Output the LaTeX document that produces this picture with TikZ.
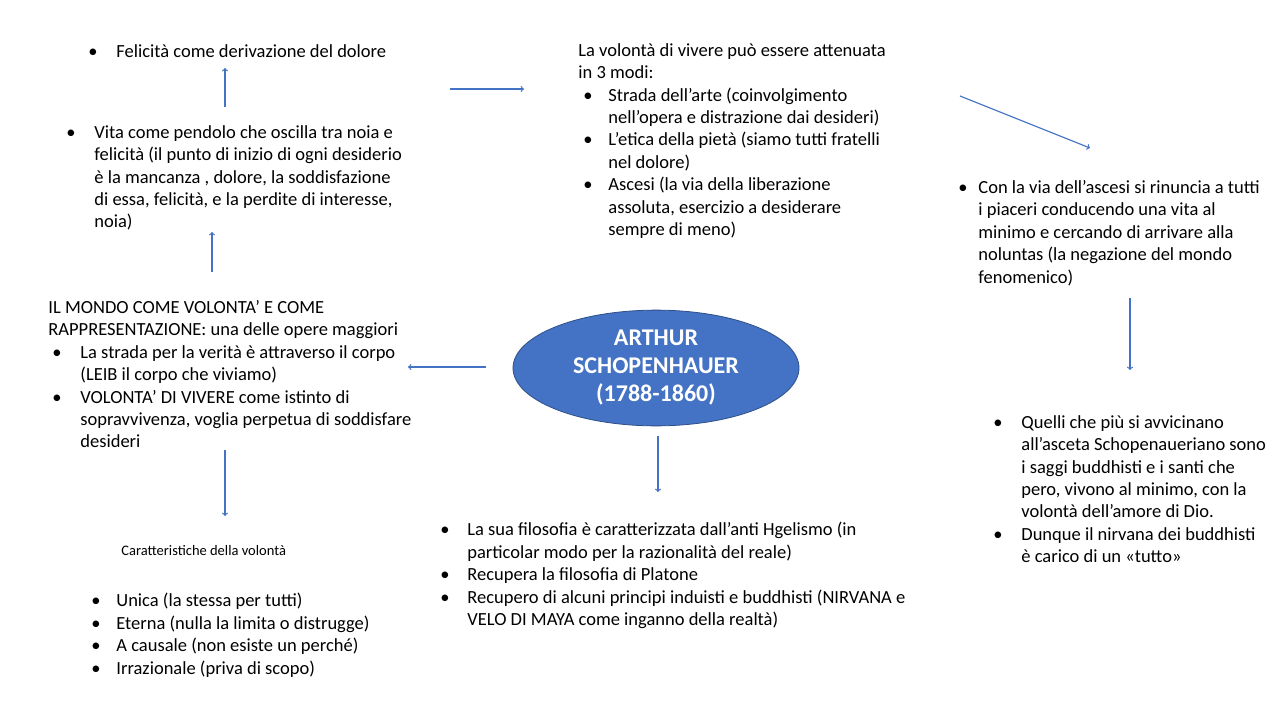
\documentclass[tikz,border=0pt]{standalone}
\usepackage{fontspec}
\setmainfont{Carlito}
\usetikzlibrary{arrows}
\usetikzlibrary{positioning,shapes.geometric}
\newcommand{\bu}[1]{\makebox[#1][l]{\textbullet}}
\newcommand{\ct}[1]{\hspace*{#1}}
\definecolor{slideblue}{HTML}{4472C4}
\begin{document}
\begin{tikzpicture}[x=1pt,y=-1pt,->,>=to,
	thick,txt/.style={anchor=north west,inner sep=0pt,align=left,font=\fontsize{18.5}{22.4}\selectfont},
	link/.style={draw=slideblue,line width=1.2pt}]
	\useasboundingbox (0,0) rectangle (1280,720);

	\node[txt] (fel) at (88,44) {\bu{28pt}Felicità come derivazione del dolore};
	\node[txt] (vita) at (66,125) {\bu{28pt}Vita come pendolo che oscilla tra noia e\\
		\ct{28pt}felicità (il punto di inizio di ogni desiderio\\
		\ct{28pt}è la mancanza , dolore, la soddisfazione\\
		\ct{28pt}di essa, felicità, e la perdite di interesse,\\
		\ct{28pt}noia)};
	\node[txt] (modi) at (578,43) {La volontà di vivere può essere attenuata\\
		in 3 modi:\\
		\ct{5pt}\bu{25pt}Strada dell'arte (coinvolgimento\\
		\ct{30pt}nell'opera e distrazione dai desideri)\\
		\ct{5pt}\bu{25pt}L'etica della pietà (siamo tutti fratelli\\
		\ct{30pt}nel dolore)\\
		\ct{5pt}\bu{25pt}Ascesi (la via della liberazione\\
		\ct{30pt}assoluta, esercizio a desiderare\\
		\ct{30pt}sempre di meno)};
	\node[txt] (ascesi) at (958,180) {\bu{20pt}Con la via dell'ascesi si rinuncia a tutti\\
		\ct{20pt}i piaceri conducendo una vita al\\
		\ct{20pt}minimo e cercando di arrivare alla\\
		\ct{20pt}noluntas (la negazione del mondo\\
		\ct{20pt}fenomenico)};
	\node[txt] (mondo) at (48,300) {IL MONDO COME VOLONTA' E COME\\
		RAPPRESENTAZIONE: una delle opere maggiori\\
		\ct{4pt}\bu{28pt}La strada per la verità è attraverso il corpo\\
		\ct{32pt}(LEIB il corpo che viviamo)\\
		\ct{4pt}\bu{28pt}VOLONTA' DI VIVERE come istinto di\\
		\ct{32pt}sopravvivenza, voglia perpetua di soddisfare\\
		\ct{32pt}desideri};
	\node[ellipse,draw=slideblue!70!black,fill=slideblue,minimum width=286pt,minimum height=108pt,
		text=white,align=center,font=\fontsize{24}{28}\selectfont\bfseries] (arthur) at (656,368)
		{ARTHUR\\SCHOPENHAUER\\(1788-1860)};
	\node[txt,font=\fontsize{14.5}{16}\selectfont] (car) at (121,545) {Caratteristiche della volontà};
	\node[txt] (vol) at (91,593) {\bu{25pt}Unica (la stessa per tutti)\\
		\bu{25pt}Eterna (nulla la limita o distrugge)\\
		\bu{25pt}A causale (non esiste un perché)\\
		\bu{25pt}Irrazionale (priva di scopo)};
	\node[txt] (filo) at (440,522) {\bu{27pt}La sua filosofia è caratterizzata dall'anti Hgelismo (in\\
		\ct{27pt}particolar modo per la razionalità del reale)\\
		\bu{27pt}Recupera la filosofia di Platone\\
		\bu{27pt}Recupero di alcuni principi induisti e buddhisti (NIRVANA e\\
		\ct{27pt}VELO DI MAYA come inganno della realtà)};
	\node[txt] (saggi) at (993,415) {\bu{28pt}Quelli che più si avvicinano\\
		\ct{28pt}all'asceta Schopenaueriano sono\\
		\ct{28pt}i saggi buddhisti e i santi che\\
		\ct{28pt}pero, vivono al minimo, con la\\
		\ct{28pt}volontà dell'amore di Dio.\\
		\bu{28pt}Dunque il nirvana dei buddhisti\\
		\ct{28pt}è carico di un «tutto»};

	\coordinate (a1) at (225,107); \coordinate (b1) at (225,68);
	\coordinate (a2) at (212,272); \coordinate (b2) at (212,232);
	\coordinate (a3) at (450,89);  \coordinate (b3) at (524,89);
	\coordinate (a4) at (960,96);  \coordinate (b4) at (1090,148);
	\coordinate (a5) at (1130,298); \coordinate (b5) at (1130,370);
	\coordinate (a6) at (486,367); \coordinate (b6) at (408,367);
	\coordinate (a7) at (225,450); \coordinate (b7) at (225,516);
	\coordinate (a8) at (658,436); \coordinate (b8) at (658,492);
	\foreach \i in {1,...,8}
		\draw[link] (a\i) -- (b\i);
\end{tikzpicture}
\end{document}
